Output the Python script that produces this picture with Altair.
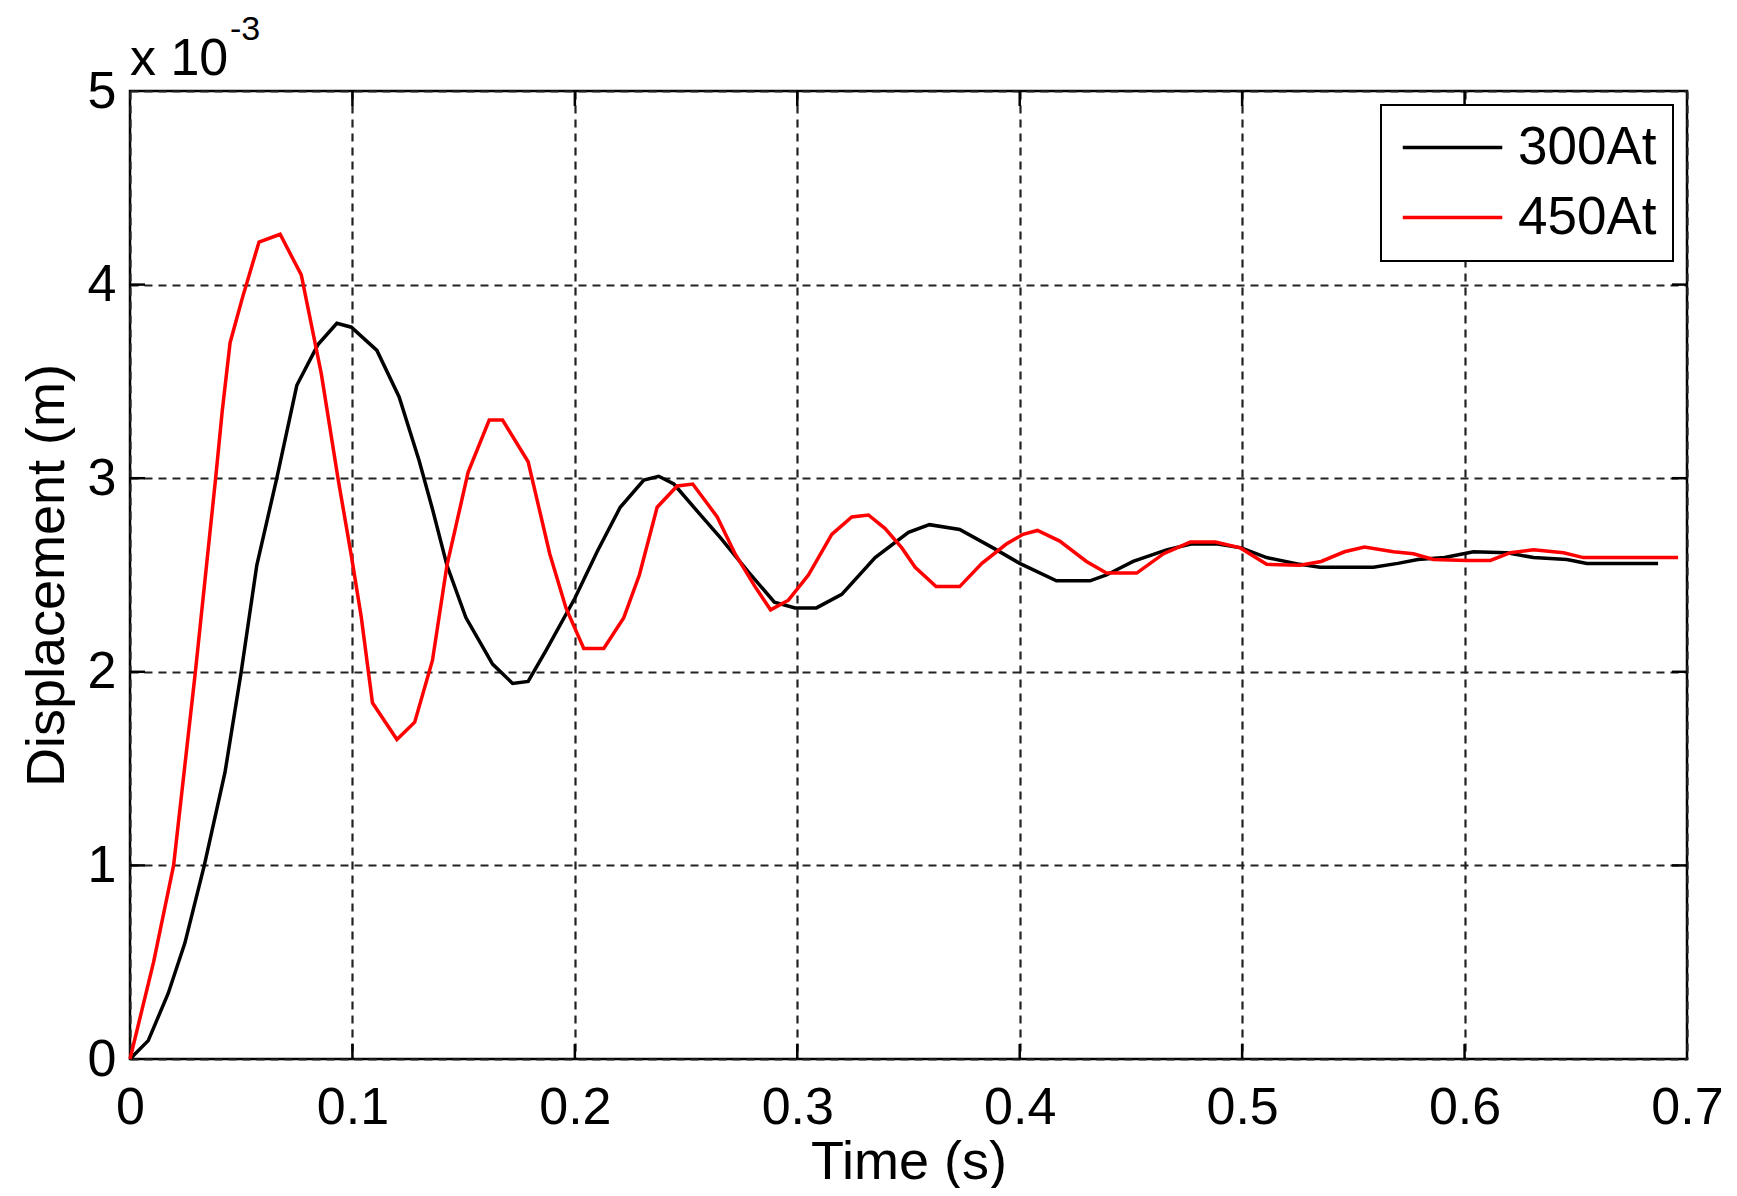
import altair as alt
import pandas as pd

# ---- data (displacement in units of 1e-3 m) ----
t_300 = [0, 0.0082, 0.0172, 0.0247, 0.0334, 0.0427, 0.050, 0.057, 0.066, 0.075, 0.0845, 0.093, 0.0995,
         0.111, 0.121, 0.130, 0.136, 0.1425, 0.151, 0.163, 0.172, 0.179, 0.187, 0.2, 0.21, 0.2204,
         0.231, 0.2377, 0.2445, 0.255, 0.2656, 0.2777, 0.2897, 0.299, 0.3086, 0.32, 0.335, 0.35,
         0.3594, 0.373, 0.388, 0.4, 0.4165, 0.4316, 0.439, 0.451, 0.466, 0.477, 0.489, 0.4996,
         0.511, 0.526, 0.535, 0.559, 0.57, 0.579, 0.591, 0.604, 0.619, 0.631, 0.646, 0.655, 0.687]
d_300 = [0, 0.095, 0.34, 0.60, 1.0, 1.48, 2.0, 2.55, 3.0, 3.48, 3.69, 3.80, 3.78,
         3.66, 3.42, 3.09, 2.84, 2.55, 2.28, 2.04, 1.94, 1.95, 2.11, 2.38, 2.62, 2.85,
         2.99, 3.01, 2.97, 2.83, 2.69, 2.52, 2.36, 2.33, 2.33, 2.40, 2.59, 2.72,
         2.76, 2.735, 2.64, 2.56, 2.47, 2.47, 2.50, 2.57, 2.63, 2.66, 2.66, 2.64,
         2.59, 2.555, 2.54, 2.54, 2.56, 2.58, 2.59, 2.62, 2.615, 2.59, 2.58, 2.56, 2.56]

t_450 = [0, 0.0106, 0.0196, 0.0294, 0.0385, 0.0415, 0.045, 0.0505, 0.058, 0.0675, 0.077, 0.086,
         0.0935, 0.0995, 0.104, 0.109, 0.120, 0.128, 0.136, 0.1425, 0.152, 0.1615, 0.1675, 0.179,
         0.1887, 0.196, 0.204, 0.213, 0.222, 0.229, 0.237, 0.246, 0.253, 0.264, 0.272, 0.281,
         0.288, 0.296, 0.305, 0.3155, 0.3245, 0.332, 0.3395, 0.347, 0.353, 0.3624, 0.373, 0.383,
         0.394, 0.4015, 0.408, 0.418, 0.43, 0.439, 0.4526, 0.4647, 0.4767, 0.488, 0.4992, 0.511,
         0.526, 0.5355, 0.546, 0.555, 0.568, 0.577, 0.586, 0.601, 0.6116, 0.6206, 0.631, 0.6445,
         0.6534, 0.668, 0.696]
d_450 = [0, 0.50, 1.0, 2.0, 3.0, 3.35, 3.70, 3.93, 4.22, 4.26, 4.05, 3.54,
         3.0, 2.60, 2.28, 1.84, 1.65, 1.74, 2.06, 2.55, 3.03, 3.30, 3.30, 3.085,
         2.61, 2.33, 2.12, 2.12, 2.28, 2.50, 2.85, 2.96, 2.97, 2.80, 2.61, 2.44,
         2.32, 2.37, 2.50, 2.71, 2.80, 2.81, 2.74, 2.64, 2.54, 2.44, 2.44, 2.56,
         2.66, 2.71, 2.73, 2.675, 2.57, 2.51, 2.51, 2.61, 2.67, 2.67, 2.64, 2.555,
         2.55, 2.57, 2.62, 2.645, 2.62, 2.61, 2.58, 2.575, 2.575, 2.615, 2.63, 2.615,
         2.59, 2.59, 2.59]

series_names = ["300At", "450At"]
series_colors = ["#000000", "#ff0000"]
x_ticks = [0, 0.1, 0.2, 0.3, 0.4, 0.5, 0.6, 0.7]
y_ticks = [0, 1, 2, 3, 4, 5]
x_inner_ticks = [0.1, 0.2, 0.3, 0.4, 0.5, 0.6]
y_inner_ticks = [1, 2, 3, 4]
exp_base = ["x 10"]
exp_power = ["-3"]

W, H = 1557, 968
FONT = "Liberation Sans"
TICK = 15
GRID = dict(grid=True, gridColor="#222222", gridDash=[8, 6], gridWidth=2.2, gridOpacity=1)

df = pd.concat([
    pd.DataFrame({"time": t_300, "disp": d_300, "series": series_names[0]}),
    pd.DataFrame({"time": t_450, "disp": d_450, "series": series_names[1]}),
], ignore_index=True)

x_scale = alt.Scale(domain=[0, 0.7], nice=False, zero=False)
y_scale = alt.Scale(domain=[0, 5], nice=False, zero=False)

x_axis = alt.Axis(
    title="Time (s)", values=x_ticks, format="~g", **GRID,
    domain=False, ticks=False, labelFlush=False, labelOverlap=False,
    labelFont=FONT, labelFontSize=52, labelColor="#000000", labelPadding=23,
    titleFont=FONT, titleFontSize=54, titleFontWeight="normal", titleColor="#000000",
    titlePadding=2)
y_axis = alt.Axis(
    title="Displacement (m)", values=y_ticks, format="~g", **GRID,
    domain=False, ticks=False, labelFlush=False, labelOverlap=False,
    labelFont=FONT, labelFontSize=52, labelColor="#000000", labelPadding=14,
    titleFont=FONT, titleFontSize=54, titleFontWeight="normal", titleColor="#000000",
    titlePadding=13)

lines = alt.Chart(df).mark_line(strokeWidth=3.5).encode(
    x=alt.X("time:Q", scale=x_scale, axis=x_axis),
    y=alt.Y("disp:Q", scale=y_scale, axis=y_axis),
    color=alt.Color("series:N", scale=alt.Scale(domain=series_names, range=series_colors),
                    legend=alt.Legend(
                        title=None, orient="top-right", offset=14, padding=16,
                        strokeColor="#000000", fillColor="#ffffff",
                        symbolType="M-1.25,0H4.75", symbolSize=1100, symbolStrokeWidth=3.5,
                        labelFont=FONT, labelFontSize=53, labelColor="#000000",
                        labelOffset=68, rowPadding=16)),
)

xt_df = pd.DataFrame({"time": x_inner_ticks})
yt_df = pd.DataFrame({"disp": y_inner_ticks})

x_bottom = alt.Chart(xt_df).mark_rule(color="#000000", strokeWidth=2.5).encode(
    x=alt.X("time:Q", scale=x_scale, axis=x_axis), y=alt.value(H), y2=alt.value(H - TICK))
x_top = alt.Chart(xt_df).mark_rule(color="#000000", strokeWidth=2.5).encode(
    x=alt.X("time:Q", scale=x_scale, axis=x_axis), y=alt.value(0), y2=alt.value(TICK))
y_left = alt.Chart(yt_df).mark_rule(color="#000000", strokeWidth=2.5).encode(
    y=alt.Y("disp:Q", scale=y_scale, axis=y_axis), x=alt.value(0), x2=alt.value(TICK))
y_right = alt.Chart(yt_df).mark_rule(color="#000000", strokeWidth=2.5).encode(
    y=alt.Y("disp:Q", scale=y_scale, axis=y_axis), x=alt.value(W - TICK), x2=alt.value(W))

base_txt = alt.Chart(pd.DataFrame({"label": exp_base})).mark_text(
    align="left", baseline="alphabetic", font=FONT, fontSize=52, color="#000000").encode(
    x=alt.value(0), y=alt.value(-16), text="label:N")
pow_txt = alt.Chart(pd.DataFrame({"label": exp_power})).mark_text(
    align="left", baseline="alphabetic", font=FONT, fontSize=34, color="#000000").encode(
    x=alt.value(100), y=alt.value(-51), text="label:N")

chart = alt.layer(lines, x_bottom, x_top, y_left, y_right, base_txt, pow_txt).properties(
    width=W, height=H,
    autosize=alt.AutoSizeParams(type="none"),
    padding={"left": 122, "top": 83, "right": 42, "bottom": 129},
    background="#ffffff",
).configure_view(stroke="#000000", strokeWidth=2.5).configure_legend(strokeWidth=2)

chart.save("out.html", embed_options={"renderer": "svg", "actions": False})
